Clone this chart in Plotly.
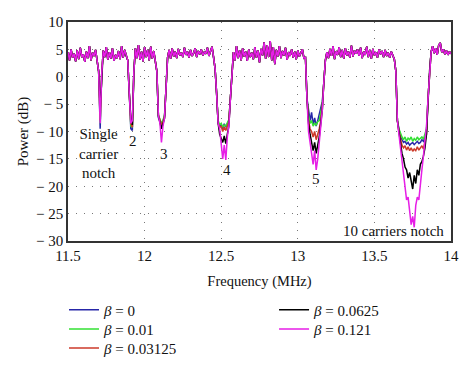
import numpy as np
import plotly.graph_objects as go

# Frequency grid (MHz), 0.01 MHz step
freq = np.round(np.arange(11.50, 14.0001, 0.01), 2)

# beta = 0.121 (magenta), full trace
power_b0121 = [
    4.5, 3.0, 5.0, 3.5, 4.2, 2.8, 4.8, 3.2, 5.3, 3.6,
    4.1, 2.7, 4.6, 3.4, 5.6, 3.0, 4.4, 3.8, 4.9, 2.5,
    1.0, -8.5, 0.5, 4.8, 3.6, 5.4, 3.1, 4.5, 3.3, 5.2,
    2.9, 4.0, 3.4, 4.7, 3.2, 5.6, 3.5, 4.9, 3.8, 3.0,
    -3.0, -8.5, -8.0, 1.0, 5.2, 3.4, 5.8, 3.1, 4.6, 2.8,
    5.4, 3.6, 4.9, 3.0, 5.5, 3.3, 4.7, 2.9, 1.0, -7.0,
    -8.5, -12.0, -9.0, -7.5, -2.0, 3.5, 4.9, 3.3, 5.2, 3.7,
    4.6, 3.4, 5.1, 3.9, 4.4, 3.6, 5.3, 4.0, 4.6, 3.5,
    4.9, 3.8, 4.3, 5.2, 3.6, 4.7, 4.1, 5.0, 3.9, 4.5,
    4.2, 5.3, 3.8, 4.8, 5.5, 3.6, 1.5, -3.0, -8.5, -9.5,
    -12.0, -15.0, -12.5, -15.2, -11.0, -9.0, -4.0, 1.5, 4.5, 3.0,
    5.6, 3.4, 4.8, 3.0, 5.2, 3.7, 4.6, 2.9, 5.0, 3.6,
    4.4, 3.2, 5.4, 3.5, 4.8, 2.6, 5.1, 3.9, 6.3, 3.3,
    5.8, 3.6, 6.5, 3.0, 5.4, 2.3, 4.9, 3.7, 5.6, 3.4,
    4.7, 3.9, 5.3, 3.1, 4.5, 3.8, 5.0, 3.5, 4.6, 3.2,
    4.8, 3.7, 4.3, 5.0, 3.4, 3.5, -4.0, -10.0, -12.0, -14.0,
    -16.0, -13.5, -17.0, -15.0, -12.0, -10.0, -6.0, -1.0, 3.0, 4.5,
    3.4, 5.1, 3.8, 5.6, 3.2, 4.7, 4.0, 5.4, 3.6, 4.9,
    3.3, 5.2, 3.9, 4.6, 3.5, 5.7, 3.7, 4.8, 4.2, 5.0,
    3.8, 5.3, 3.4, 4.6, 4.0, 5.5, 3.6, 4.9, 3.3, 5.1,
    3.9, 4.5, 3.5, 5.0, 4.1, 4.7, 3.6, 4.9, 3.8, 4.4,
    3.5, 4.6, 3.9, 3.2, 1.0, -8.0, -10.5, -13.0, -16.0, -18.0,
    -20.0, -22.5, -22.0, -24.5, -27.0, -25.5, -27.5, -23.5, -22.0, -22.5,
    -19.0, -17.0, -14.5, -11.5, -9.0, -4.0, 1.0, 4.5, 5.6, 4.3,
    5.2, 4.0, 5.8, 6.2, 4.5, 5.0, 4.1, 4.8, 4.0, 4.6,
    4.2,
]

# Notch segments (start frequency) where the other curves differ
notch_starts = [11.70, 11.90, 12.08, 12.46, 13.05, 13.64]

notch_b0 = [
    [1.0, -9.5, 0.5],
    [-3.0, -9.5, -9.8, 1.0],
    [1.0, -7.5, -8.0, -9.0, -8.2, -7.2, -2.0],
    [1.5, -3.0, -8.5, -9.0, -8.8, -9.5, -8.6, -9.2, -8.4, -8.0, -4.0, 1.5],
    [3.5, -4.0, -6.0, -8.0, -6.5, -8.8, -7.5, -9.0, -8.0, -7.0, -5.5, -4.5, -1.0, 3.0],
    [1.0, -8.0, -9.5, -11.0, -11.5, -12.0, -11.8, -12.3, -12.0, -12.5, -12.2, -12.0,
     -12.4, -12.0, -11.8, -12.2, -12.0, -11.5, -11.8, -11.0, -10.0, -4.0, 1.0, 4.5],
]
notch_b001 = [
    [1.0, -8.5, 0.5],
    [-3.0, -9.0, -9.2, 1.0],
    [1.0, -7.0, -7.8, -8.5, -8.0, -7.0, -2.0],
    [1.5, -3.0, -8.0, -8.8, -8.5, -9.2, -8.8, -9.0, -8.5, -7.8, -4.0, 1.5],
    [3.5, -4.0, -7.0, -8.5, -8.0, -9.0, -8.5, -8.8, -8.2, -8.0, -6.5, -5.0, -1.0, 3.0],
    [1.0, -8.0, -9.5, -10.5, -11.0, -11.5, -11.0, -11.8, -11.2, -11.5, -11.0, -11.8,
     -11.3, -11.6, -11.0, -11.5, -11.2, -11.0, -11.4, -10.5, -9.5, -4.0, 1.0, 4.5],
]
notch_b003125 = [
    [1.0, -8.0, 0.5],
    [-3.0, -8.5, -9.2, 1.0],
    [1.0, -7.0, -8.0, -8.8, -8.3, -7.4, -2.0],
    [1.5, -3.0, -8.5, -9.3, -9.0, -10.0, -9.2, -9.8, -9.0, -8.2, -4.0, 1.5],
    [3.5, -4.0, -8.0, -9.5, -10.0, -11.0, -10.0, -11.5, -10.5, -9.5, -8.0, -5.5, -1.0, 3.0],
    [1.0, -8.0, -10.0, -11.5, -12.5, -13.0, -12.6, -13.4, -12.8, -13.5, -13.0, -13.6,
     -13.2, -13.5, -12.8, -13.4, -13.0, -12.6, -13.2, -12.0, -10.5, -4.0, 1.0, 4.5],
]
notch_b00625 = [
    [1.0, -6.0, 0.5],
    [-3.0, -7.5, -8.8, 1.0],
    [1.0, -7.2, -8.2, -9.5, -8.6, -7.6, -2.0],
    [1.5, -3.0, -8.5, -10.5, -11.5, -12.0, -10.8, -12.2, -10.5, -9.0, -4.0, 1.5],
    [3.5, -4.0, -8.5, -10.5, -12.0, -13.5, -12.0, -14.0, -12.5, -11.0, -8.5, -6.0, -1.0, 3.0],
    [1.0, -8.0, -10.0, -12.5, -14.0, -15.0, -16.5, -17.0, -18.5, -17.5, -19.0, -20.5,
     -18.0, -19.5, -17.0, -18.0, -16.0, -15.5, -14.5, -13.0, -10.5, -4.0, 1.0, 4.5],
]

series_names = ["<i>β</i> = 0", "<i>β</i> = 0.01", "<i>β</i> = 0.03125",
                "<i>β</i> = 0.0625", "<i>β</i> = 0.121"]
series_colors = ["#2626a8", "#33e033", "#cc3a2a", "#000000", "#e61ee6"]

ytick_vals = [-30, -25, -20, -15, -10, -5, 0, 5, 10]
ytick_text = ["− 30", "− 25", "− 20", "− 15", "− 10", "− 5", "0", "5", "10"]
xtick_vals = [11.5, 12, 12.5, 13, 13.5, 14]
xtick_text = ["11.5", "12", "12.5", "13", "13.5", "14"]


def build(notches):
    y = list(power_b0121)
    for start, seg in zip(notch_starts, notches):
        i0 = int(round((start - 11.50) / 0.01))
        for k, v in enumerate(seg):
            y[i0 + k] = v
    return y


all_series = [build(notch_b0), build(notch_b001), build(notch_b003125),
              build(notch_b00625), list(power_b0121)]

FONT = "Liberation Serif"
legend_ids = ["legend", "legend2", "legend3", "legend4", "legend5"]
fig = go.Figure()
for i, (name, col, ys) in enumerate(zip(series_names, series_colors, all_series)):
    fig.add_trace(go.Scatter(
        x=freq, y=ys, mode="lines", name=name,
        line=dict(color=col, width=1.5),
        legend=legend_ids[i],
    ))

annots = [
    dict(x=11.699, y=-14.1, text="Single<br>carrier<br>notch"),
    dict(x=11.925, y=-11.8, text="2"),
    dict(x=12.129, y=-14.1, text="3"),
    dict(x=12.537, y=-17.0, text="4"),
    dict(x=13.119, y=-18.7, text="5"),
]
for a in annots:
    fig.add_annotation(x=a["x"], y=a["y"], text=a["text"], showarrow=False,
                       font=dict(family=FONT, size=15, color="#111"),
                       xanchor="center", yanchor="middle")
fig.add_annotation(x=13.97, y=-28.1, text="10 carriers notch", showarrow=False,
                   font=dict(family=FONT, size=15, color="#111"),
                   xanchor="right", yanchor="middle")

axis_common = dict(showline=True, linecolor="#333", linewidth=1.5, mirror=True,
                   showgrid=True, gridcolor="#777", griddash="1px,7px", gridwidth=1.3,
                   zeroline=False, ticks="", automargin=False,
                   tickfont=dict(family=FONT, size=15, color="#111"))

leg_common = dict(font=dict(family=FONT, size=15, color="#111"), tracegroupgap=0,
                  bgcolor="rgba(0,0,0,0)", xanchor="left", yanchor="middle")
lx1, lx2 = -0.0104, 0.538
ly = [-0.309, -0.397, -0.483]

# the page body adds an 8px offset, so the figure is 8px smaller on each axis
fig.update_layout(
    width=466, height=367,
    margin=dict(l=60, r=23, t=14, b=133),
    paper_bgcolor="white", plot_bgcolor="white",
    font=dict(family=FONT, size=15, color="#111"),
    xaxis=dict(range=[11.5, 14], tickvals=xtick_vals, ticktext=xtick_text,
               title=dict(text="Frequency (MHz)", font=dict(family=FONT, size=14.5), standoff=13),
               **axis_common),
    yaxis=dict(range=[-30, 10], tickvals=ytick_vals, ticktext=ytick_text,
               title=dict(text="Power (dB)", font=dict(family=FONT, size=15), standoff=4),
               **axis_common),
    legend=dict(x=lx1, y=ly[0], **leg_common),
    legend2=dict(x=lx1, y=ly[1], **leg_common),
    legend3=dict(x=lx1, y=ly[2], **leg_common),
    legend4=dict(x=lx2, y=ly[0], **leg_common),
    legend5=dict(x=lx2, y=ly[1], **leg_common),
    showlegend=True,
)

fig.write_html("out.html")
